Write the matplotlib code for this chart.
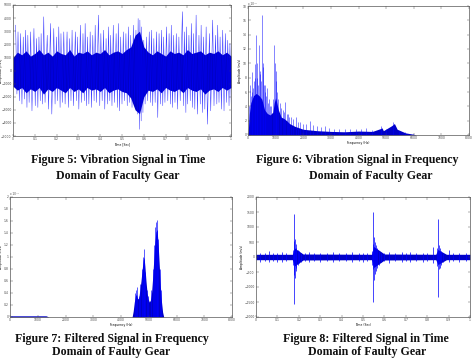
import numpy as np
import matplotlib
matplotlib.use("Agg")
import matplotlib.pyplot as plt

# ---------------- data ----------------
# Fig 5: vibration signal in time domain (peak tips)
up_t = [0.012,0.023,0.035,0.047,0.058,0.068,0.081,0.096,0.108,0.119,0.129,0.141,0.157,0.172,0.187,0.199,
        0.210,0.220,0.233,0.248,0.260,0.271,0.286,0.296,0.309,0.321,0.331,0.342,0.354,0.366,0.377,0.392,
        0.403,0.415,0.427,0.438,0.448,0.460,0.473,0.483,0.494,0.506,0.518,0.529,0.540,0.552,0.564,0.574,
        0.582,0.590,0.600,0.612,0.625,0.635,0.646,0.658,0.670,0.681,0.691,0.704,0.716,0.726,0.737,0.749,
        0.761,0.777,0.787,0.795,0.807,0.818,0.828,0.840,0.853,0.863,0.874,0.886,0.901,0.916,0.929,0.939,
        0.950,0.962,0.974,0.985,0.995]
up_v = [3460,2950,2820,2560,3080,2690,2950,3210,2440,2560,2820,4100,2690,3590,3210,2560,
        3330,2820,2950,2950,2440,3080,2950,2560,3460,2820,3590,2560,2950,2690,3460,4230,
        2820,3080,2440,3330,2690,3460,2820,3590,2560,2950,2820,3330,2690,3460,3080,3970,
        3850,3330,2310,2560,2950,3080,2440,2950,2820,3080,2560,3330,2820,3460,2690,2820,
        2560,4490,2950,3330,2690,3590,2820,4230,2690,3460,2560,3330,2820,3850,2690,3460,
        2560,3080,2820,2310,2050]
lo_v = [-1800,-2310,-2560,-2180,-2820,-2440,-3080,-2690,-2820,-2310,-2560,-2440,-2950,-3330,-2560,-2310,
        -2820,-2440,-2560,-2820,-2310,-2690,-2310,-2950,-2440,-2310,-2690,-2560,-2820,-2310,-2440,-2690,
        -2310,-2950,-2560,-2310,-2690,-2440,-2820,-3080,-2560,-2310,-2690,-2440,-2820,-2560,-3330,-4490,
        -3850,-3210,-2560,-2310,-2440,-2690,-2440,-3590,-2560,-2690,-2440,-2310,-2560,-2820,-2440,-2950,
        -2310,-2690,-3210,-2560,-2310,-2820,-2950,-3330,-2560,-3210,-2950,-4100,-3080,-2690,-2560,-2440,
        -2950,-3080,-2440,-2690,-2560]
core1_t = [0.00,0.02,0.04,0.06,0.08,0.10,0.12,0.14,0.16,0.18,0.20,0.22,0.24,0.26,0.28,0.30,0.32,
           0.34,0.36,0.38,0.40,0.42,0.44,0.46,0.48,0.50,0.52,0.54,0.56,0.58,0.60,0.62,0.64,0.66,
           0.68,0.70,0.72,0.74,0.76,0.78,0.80,0.82,0.84,0.86,0.88,0.90,0.92,0.94,0.96,0.98,1.00]
core1_hi = [1000,1400,1200,1500,1100,1300,1600,1200,1400,1100,1500,1300,1200,1600,1100,1400,1300,
            1500,1200,1400,1300,1600,1200,1400,1500,1300,1600,1800,2700,3000,1800,1400,1200,1500,
            1300,1100,1500,1300,1400,1200,1600,1300,1400,1500,1200,1400,1300,1500,1200,1400,1100]
core1_lo = [-1200,-1500,-1300,-1700,-1400,-1600,-1300,-1800,-1400,-1600,-1300,-1500,-1700,-1300,-1600,
            -1400,-1700,-1300,-1500,-1400,-1600,-1300,-1700,-1500,-1400,-1600,-1700,-2100,-3000,-3300,
            -2000,-1500,-1600,-1400,-1700,-1300,-1500,-1600,-1400,-1700,-1300,-1500,-1600,-1400,-1800,
            -1500,-1400,-1600,-1300,-1500,-1300]

# Fig 6: vibration signal in frequency domain (x 10^-3)
f2_core = [0, 50, 100, 200, 300, 400, 500, 600, 700, 800, 900, 950, 1000, 1100, 1200, 1300, 1400, 1500,
           1700, 2000, 2500, 3000, 3500, 4000, 4500, 4800, 4850, 4900, 5200, 5300, 5400, 5700, 6000, 6100, 8000]
a2_core = [0, 3, 4.5, 5.5, 5.8, 5.5, 5, 3.5, 3, 2.8, 3.2, 4.5, 5.2, 3.5, 2.5, 2.3, 2.0, 1.6,
           1.2, 0.8, 0.6, 0.5, 0.45, 0.55, 0.5, 0.9, 1.0, 0.6, 1.3, 1.6, 0.8, 0.3, 0.1, 0, 0]
f2_peak = [40, 80, 110, 133, 160, 180, 210, 240, 265, 290, 310, 330, 360, 400, 425, 450, 475, 500,
           525, 550, 575, 600, 625, 650, 700, 730, 760, 800, 850, 900, 945, 975, 1000, 1030, 1060,
           1100, 1150, 1200, 1250, 1300, 1345, 1400, 1450, 1500, 1550, 1620, 1730, 1800, 1900, 2000,
           2100, 2250, 2350, 2500, 2650, 2800, 2950, 3100, 3300, 3500, 3700, 3900, 4100, 4280, 4500,
           4825, 5000, 5250, 5450, 5700, 5975]
a2_peak = [4, 7, 5.5, 8.8, 6, 6.5, 7.5, 9.9, 8, 14.0, 10, 8, 7, 12.5, 8.5, 9, 7.5, 16.8,
           9.5, 10, 7, 7, 6, 5.5, 6.5, 4.5, 5, 4, 4, 5, 12.5, 10, 9, 7.5, 6,
           5, 4.5, 3.8, 3.5, 3.2, 4.6, 3, 3, 2.5, 2.5, 2.2, 2.5, 1.8, 1.8, 1.5,
           1.5, 2, 1.4, 1.2, 1.1, 1.3, 1.0, 0.9, 0.8, 0.8, 0.8, 0.9, 0.8, 1.0, 0.7,
           1.2, 0.8, 1.8, 0.6, 0.4, 0.2]

# Fig 7: filtered signal in frequency domain (x 10^-4)
f3_env = [0, 1300, 1400, 4400, 4440, 4480, 4520, 4560, 4600, 4640, 4680, 4720, 4760, 4800, 4830, 4860,
          4900, 4940, 4980, 5020, 5060, 5100, 5140, 5180, 5220, 5260, 5300, 5340, 5380, 5420, 5460,
          5500, 5540, 8000]
a3_env = [0.02, 0.02, 0, 0, 0.1, 0.25, 0.35, 0.38, 0.3, 0.32, 0.45, 0.6, 0.78, 0.95, 1.0, 0.85,
          0.6, 0.4, 0.3, 0.25, 0.28, 0.4, 0.65, 0.95, 1.25, 1.42, 1.45, 1.2, 0.85, 0.5, 0.25,
          0.08, 0, 0]
f3_peak = [4500, 4540, 4580, 4640, 4700, 4760, 4800, 4820, 4840, 4870, 4920, 4980, 5080, 5140, 5190,
           5230, 5260, 5290, 5310, 5350, 5400, 5440]
a3_peak = [0.4, 0.45, 0.5, 0.35, 0.55, 0.8, 1.0, 1.14, 0.95, 0.75, 0.45, 0.35, 0.45, 0.8, 1.2,
           1.5, 1.59, 1.62, 1.45, 1.3, 0.8, 0.45]

# Fig 8: filtered signal in time domain
t4_spk = [0.02, 0.04, 0.06, 0.08, 0.10, 0.12, 0.14, 0.172, 0.176, 0.179, 0.182, 0.185, 0.189, 0.194,
          0.200, 0.210, 0.23, 0.25, 0.27, 0.30, 0.33, 0.36, 0.39, 0.42, 0.45, 0.48, 0.50, 0.52,
          0.540, 0.545, 0.549, 0.552, 0.556, 0.561, 0.567, 0.575, 0.585, 0.60, 0.62, 0.65, 0.68,
          0.70, 0.72, 0.75, 0.78, 0.80, 0.826, 0.846, 0.850, 0.854, 0.858, 0.864, 0.875, 0.90,
          0.92, 0.95, 0.98]
hi4_spk = [150, 120, 200, 130, 150, 180, 140, 250, 550, 1440, 600, 450, 300, 250,
           200, 150, 130, 170, 120, 140, 130, 160, 120, 140, 170, 130, 150, 120,
           200, 450, 1500, 670, 500, 400, 300, 200, 150, 130, 180, 130, 160,
           130, 160, 120, 150, 130, 330, 300, 1280, 390, 300, 200, 150, 220,
           140, 150, 130]
lo4_spk = [-150, -130, -180, -120, -150, -150, -130, -250, -600, -1560, -700, -450, -350, -250,
           -200, -150, -130, -150, -120, -150, -130, -160, -130, -140, -180, -120, -150, -130,
           -250, -400, -1500, -780, -550, -450, -350, -250, -150, -130, -200, -130, -170,
           -120, -160, -130, -150, -120, -200, -300, -1330, -390, -350, -250, -150, -180,
           -130, -150, -130]
core4_t = [0, 0.17, 0.18, 0.22, 0.54, 0.55, 0.60, 0.84, 0.85, 0.89, 1.0]
core4_hi = [90, 90, 300, 100, 90, 350, 100, 90, 250, 90, 90]
core4_lo = [-90, -90, -300, -100, -90, -350, -100, -90, -250, -90, -90]

# ---------------- figure ----------------
W, H = 474, 359
fig = plt.figure(figsize=(W / 100, H / 100), dpi=100)
fig.patch.set_facecolor("white")

def rect(l, r, t, b):
    return [l / W, 1 - b / H, (r - l) / W, (b - t) / H]

TFS = 2.2
BLUE = "#0000ff"
CORE = "#0000c8"

def style(ax):
    ax.tick_params(direction="in", length=1.8, width=0.3, labelsize=TFS, pad=1.0,
                   top=True, right=True, colors="#444444")
    for s in ax.spines.values():
        s.set_linewidth(0.5)
        s.set_color("#555555")

# Fig 5
ax1 = fig.add_axes(rect(13, 231, 5, 136))
t_all = np.concatenate([up_t, np.array(up_t) + 0.006])
v_all = np.concatenate([up_v, lo_v])
order = np.argsort(t_all)
ax1.fill_between(core1_t, core1_lo, core1_hi, color=CORE, lw=0)
ax1.plot(t_all[order], v_all[order], color=BLUE, lw=0.35, alpha=0.8)
ax1.set_xlim(0, 1)
ax1.set_ylim(-5000, 5000)
ax1.set_xticks(np.arange(0, 1.01, 0.1))
ax1.set_xticklabels(["0", "0.1", "0.2", "0.3", "0.4", "0.5", "0.6", "0.7", "0.8", "0.9", "1"])
ax1.set_yticks(np.arange(-5000, 5001, 1000))
ax1.set_xlabel("Time [Sec]", fontsize=TFS, labelpad=0.5)
ax1.set_ylabel("Amplitude [m/s]", fontsize=TFS)
ax1.yaxis.set_label_coords(-0.045, 0.5)
style(ax1)

# Fig 6
ax2 = fig.add_axes(rect(248, 469, 6, 135))
ax2.fill_between(f2_core, 0, a2_core, color=CORE, lw=0)
ax2.vlines(f2_peak, 0, a2_peak, color=BLUE, lw=0.45, alpha=0.75)
ax2.set_xlim(0, 8000)
ax2.set_ylim(0, 18)
ax2.set_xticks(np.arange(0, 8001, 1000))
ax2.set_yticks(np.arange(0, 19, 2))
ax2.set_xlabel("Frequency (Hz)", fontsize=TFS, labelpad=0.5)
ax2.set_ylabel("Amplitude (m/s)", fontsize=TFS, labelpad=0.5)
ax2.text(0, 1.003, "x 10\u207b\u00b3", transform=ax2.transAxes, fontsize=2.0, color="#444444", va="bottom")
style(ax2)

# Fig 7
ax3 = fig.add_axes(rect(10, 232, 197, 317))
ax3.fill_between(f3_env, 0, a3_env, color=CORE, lw=0)
ax3.vlines(f3_peak, 0, a3_peak, color=BLUE, lw=0.6, alpha=0.75)
ax3.set_xlim(0, 8000)
ax3.set_ylim(0, 2)
ax3.set_xticks(np.arange(0, 8001, 1000))
ax3.set_yticks(np.arange(0, 2.01, 0.2))
ax3.set_yticklabels(["0", "0.2", "0.4", "0.6", "0.8", "1", "1.2", "1.4", "1.6", "1.8", "2"])
ax3.set_xlabel("Frequency (Hz)", fontsize=TFS, labelpad=0.5)
ax3.set_ylabel("Amplitude (m/s)", fontsize=TFS)
ax3.yaxis.set_label_coords(-0.03, 0.5)
ax3.text(0, 1.005, "x 10\u207b\u2074", transform=ax3.transAxes, fontsize=2.0, color="#444444", va="bottom")
style(ax3)

# Fig 8
ax4 = fig.add_axes(rect(256, 470, 197, 317))
ax4.fill_between(core4_t, core4_lo, core4_hi, color=CORE, lw=0)
ax4.vlines(t4_spk, lo4_spk, hi4_spk, color=BLUE, lw=0.6, alpha=0.85)
ax4.set_xlim(0, 1)
ax4.set_ylim(-2000, 2000)
ax4.set_xticks(np.arange(0, 1.01, 0.1))
ax4.set_xticklabels(["0", "0.1", "0.2", "0.3", "0.4", "0.5", "0.6", "0.7", "0.8", "0.9", "1"])
ax4.set_yticks(np.arange(-2000, 2001, 500))
ax4.set_xlabel("Time (Sec)", fontsize=TFS, labelpad=0.5)
ax4.set_ylabel("Amplitude (m/s)", fontsize=TFS, labelpad=0.5)
style(ax4)

# Captions
CFS = 8.6
cap = dict(fontsize=CFS, fontweight="bold", family="Liberation Serif", ha="center", va="center",
           color="#111111")
def ftext(x, y, s):
    fig.text(x / W, 1 - y / H, s, **cap)

ftext(118, 160, "Figure 5: Vibration Signal in Time")
ftext(118, 176, "Domain of Faculty Gear")
ftext(357, 160, "Figure 6: Vibration Signal in Frequency")
ftext(371, 176, "Domain of Faculty Gear")
ftext(112, 339, "Figure 7: Filtered Signal in Frequency")
ftext(111, 352, "Domain of Faulty Gear")
ftext(366, 339, "Figure 8: Filtered Signal in Time")
ftext(367, 352, "Domain of Faulty Gear")

fig.savefig("out.png", dpi=100, facecolor="white")
